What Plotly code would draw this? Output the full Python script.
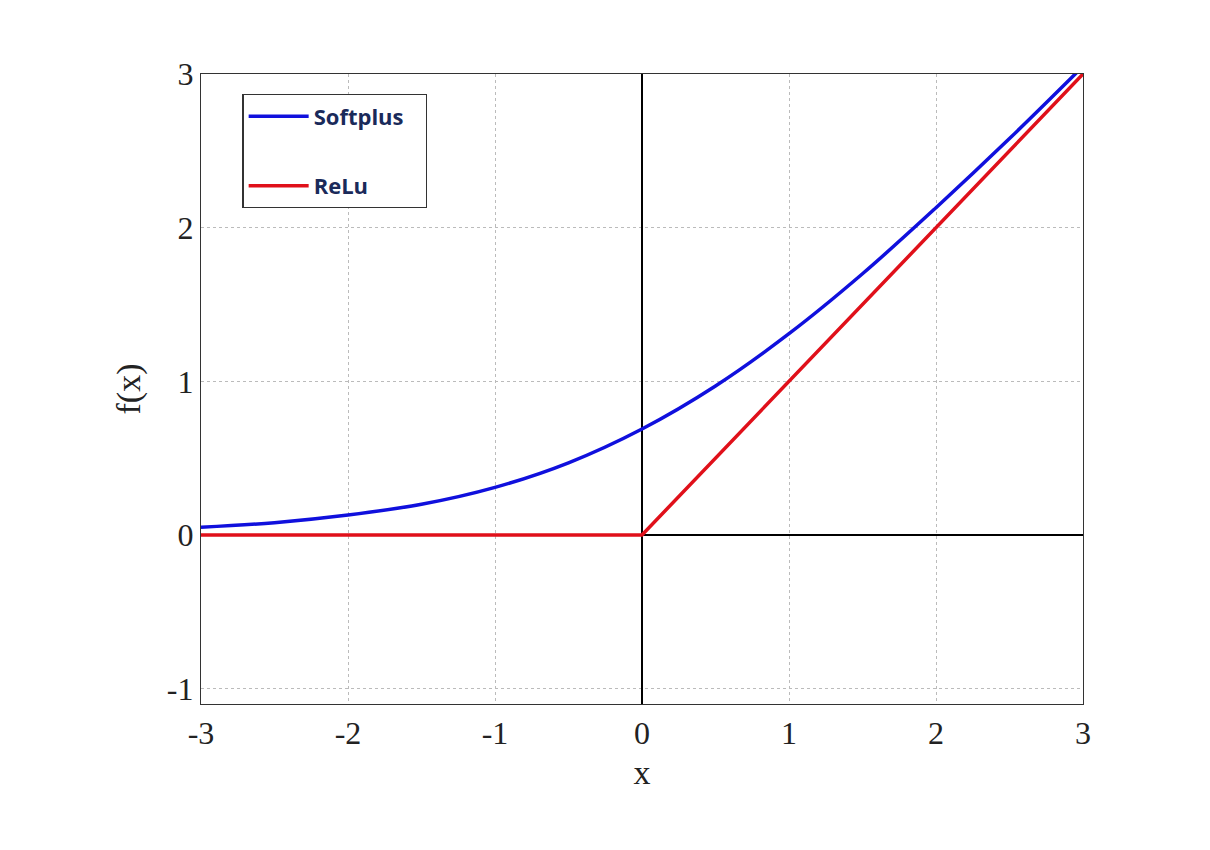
import plotly.graph_objects as go

x_soft = [-3, -2.5, -2, -1.5, -1, -0.5, 0, 0.5, 1, 1.5, 2, 2.5, 3]
y_soft = [0.05, 0.08, 0.13, 0.20, 0.31, 0.47, 0.69, 0.97, 1.31, 1.70, 2.13, 2.58, 3.05]
x_relu = [-3, 0, 3]
y_relu = [0, 0, 3]
ticks_x = [-3, -2, -1, 0, 1, 2, 3]
ticks_y = [-1, 0, 1, 2, 3]

fig = go.Figure()
fig.add_trace(go.Scatter(x=x_soft, y=y_soft, mode="lines", name="Softplus   ", legendgroup="a",
                         line=dict(color="#1010dd", width=3.5, shape="spline")))
fig.add_trace(go.Scatter(x=x_relu, y=y_relu, mode="lines", name="ReLu", legendgroup="b",
                         line=dict(color="#e0101a", width=3.5)))
ax = dict(showline=True, linecolor="#333", linewidth=1.2, mirror=True,
          showgrid=True, gridcolor="#bbb", griddash="dot", gridwidth=1,
          zeroline=True, zerolinecolor="black", zerolinewidth=1.5,
          ticks="", tickfont=dict(family="Liberation Serif", size=32, color="#222"))
fig.update_xaxes(ax, range=[-3, 3], tickvals=ticks_x, ticktext=[str(v).replace("\u2212", "-") for v in ticks_x],
                 title=dict(text="x", font=dict(family="Liberation Serif", size=34, color="#222"), standoff=10))
fig.update_yaxes(ax, range=[-1.1, 3], tickvals=ticks_y, ticktext=[str(v) for v in ticks_y],
                 title=dict(text="f(x)", font=dict(family="Liberation Serif", size=34, color="#222"), standoff=15))
fig.update_layout(width=1210, height=850, plot_bgcolor="white", paper_bgcolor="white",
                  margin=dict(l=193, r=135, t=66, b=154),
                  legend=dict(x=0.047, y=0.968, xanchor="left", yanchor="top",
                              bordercolor="#333", borderwidth=1.2, bgcolor="white",
                              font=dict(family="Open Sans", size=22, color="#1a2a5a", weight="bold"),
                              tracegroupgap=38, itemwidth=60))
fig.write_html("out.html")
